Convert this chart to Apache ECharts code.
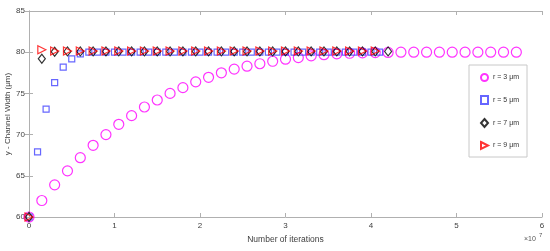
<!DOCTYPE html>
<html><head><meta charset="utf-8">
<script src="https://cdn.jsdelivr.net/npm/echarts@6/dist/echarts.min.js"></script>
<style>html,body{margin:0;padding:0;background:#fff}#c{width:550px;height:251px}</style>
</head><body><div id="c"></div>
<script>
// x in units of 1e7 iterations
const xR3 = [0,0.15,0.3,0.45,0.6,0.75,0.9,1.05,1.2,1.35,1.5,1.65,1.8,1.95,2.1,2.25,2.4,2.55,2.7,2.85,3.0,3.15,3.3,3.45,3.6,3.75,3.9,4.05,4.2,4.35,4.5,4.65,4.8,4.95,5.1,5.25,5.4,5.55,5.7];
const yR3 = [60,62.0,63.9,65.6,67.2,68.7,70.0,71.25,72.3,73.35,74.2,75.0,75.7,76.4,76.95,77.5,77.95,78.3,78.6,78.9,79.15,79.35,79.55,79.7,79.8,79.87,79.92,79.95,79.97,80,80,80,80,80,80,80,80,80,80];
const xR5 = [0,0.1,0.2,0.3,0.4,0.5,0.6,0.7,0.8,0.9,1.0,1.1,1.2,1.3,1.4,1.5,1.6,1.7,1.8,1.9,2.0,2.1,2.2,2.3,2.4,2.5,2.6,2.7,2.8,2.9,3.0,3.1,3.2,3.3,3.4,3.5,3.6,3.7,3.8,3.9,4.0,4.1];
const yR5 = [60,67.9,73.1,76.3,78.2,79.2,79.8,80,80,80,80,80,80,80,80,80,80,80,80,80,80,80,80,80,80,80,80,80,80,80,80,80,80,80,80,80,80,80,80,80,80,80];
const xR7 = [0,0.15,0.3,0.45,0.6,0.75,0.9,1.05,1.2,1.35,1.5,1.65,1.8,1.95,2.1,2.25,2.4,2.55,2.7,2.85,3.0,3.15,3.3,3.45,3.6,3.75,3.9,4.05,4.2];
const yR7 = [60,79.2,80.05,80.1,80.1,80.1,80.1,80.1,80.1,80.1,80.1,80.1,80.1,80.1,80.1,80.1,80.1,80.1,80.1,80.1,80.1,80.1,80.1,80.1,80.1,80.1,80.1,80.1,80.1];
const xR9 = [0,0.15,0.3,0.45,0.6,0.75,0.9,1.05,1.2,1.35,1.5,1.65,1.8,1.95,2.1,2.25,2.4,2.55,2.7,2.85,3.0,3.15,3.3,3.45,3.6,3.75,3.9,4.05];
const yR9 = [60,80.3,80.15,80.15,80.15,80.15,80.15,80.15,80.15,80.15,80.15,80.15,80.15,80.15,80.15,80.15,80.15,80.15,80.15,80.15,80.15,80.15,80.15,80.15,80.15,80.15,80.15,80.15];
const names = ['r = 3 μm','r = 5 μm','r = 7 μm','r = 9 μm'];
const xTicks = [0,1,2,3,4,5,6];
const yTicks = [60,65,70,75,80,85];

const zip = (a,b)=>a.map((v,i)=>[v,b[i]]);
const font = 'Liberation Sans, Arial, sans-serif';
const axisCol = '#b0b0b0';
const lblCol = '#404040';
const triPath = 'path://M0,0 L10,5 L0,10 Z';
const chart = echarts.init(document.getElementById('c'));
const hollow = c => ({color:'rgba(0,0,0,0)', borderColor:c, borderWidth:1.2});
chart.setOption({
  animation:false,
  grid:{left:29,right:8,top:11,bottom:34,containLabel:false,outerBoundsMode:'none'},
  xAxis:[{type:'value',min:xTicks[0],max:xTicks[xTicks.length-1],interval:1,
    axisLine:{onZero:false,lineStyle:{color:axisCol,width:1}},
    axisTick:{inside:true,length:4,lineStyle:{color:axisCol}},
    axisLabel:{color:lblCol,fontSize:8,fontFamily:font,margin:5},
    splitLine:{show:false},
    name:'Number of iterations',nameLocation:'middle',nameGap:16,
    nameTextStyle:{color:lblCol,fontSize:8.5,fontFamily:font}},
   {type:'value',position:'top',min:0,max:6,interval:1,
    axisLine:{lineStyle:{color:axisCol}},axisTick:{inside:true,length:4,lineStyle:{color:axisCol}},
    axisLabel:{show:false},splitLine:{show:false}}],
  yAxis:[{type:'value',min:yTicks[0],max:yTicks[yTicks.length-1],interval:5,
    axisLine:{show:true,onZero:false,lineStyle:{color:axisCol}},
    axisTick:{show:true,inside:true,length:4,lineStyle:{color:axisCol}},
    axisLabel:{color:lblCol,fontSize:8,fontFamily:font,margin:4},
    splitLine:{show:false}},
   {type:'value',position:'right',min:60,max:85,interval:5,
    axisLine:{show:true,lineStyle:{color:axisCol}},axisTick:{show:true,inside:true,length:4,lineStyle:{color:axisCol}},
    axisLabel:{show:false},splitLine:{show:false}}],
  legend:{orient:'vertical',left:469,top:65,width:65,
    backgroundColor:'#fff',borderColor:'#c8c8c8',borderWidth:1,
    padding:[8,8,7,11],itemGap:13,itemWidth:7,itemHeight:8,
    textStyle:{fontSize:7,color:'#333',fontFamily:font},
    data:[{name:names[0],icon:'circle'},{name:names[1],icon:'rect'},{name:names[2],icon:'diamond'},{name:names[3],icon:triPath}]},
  graphic:[{type:'text',x:8,y:114,rotation:Math.PI/2,style:{text:'y - Channel Width (μm)',fontSize:8,fill:lblCol,fontFamily:font,align:'center',verticalAlign:'middle'}},
           {type:'text',left:524,top:236,style:{text:'×10',fontSize:7,fill:'#555',fontFamily:font}},
           {type:'text',left:539,top:232,style:{text:'7',fontSize:6,fill:'#555',fontFamily:font}}],
  series:[
    {name:names[0],type:'scatter',data:zip(xR3,yR3),symbol:'circle',symbolSize:10,itemStyle:hollow('#ff00ff'),z:2},
    {name:names[1],type:'scatter',data:zip(xR5,yR5),symbol:'rect',symbolSize:6,itemStyle:hollow('#4040ff'),z:3},
    {name:names[2],type:'scatter',data:zip(xR7,yR7),symbol:'diamond',symbolSize:[7,9],itemStyle:hollow('#000000'),z:4},
    {name:names[3],type:'scatter',data:zip(xR9,yR9),symbol:triPath,symbolSize:[8,8],itemStyle:hollow('#ff0000'),z:5}
  ]
});
</script></body></html>
